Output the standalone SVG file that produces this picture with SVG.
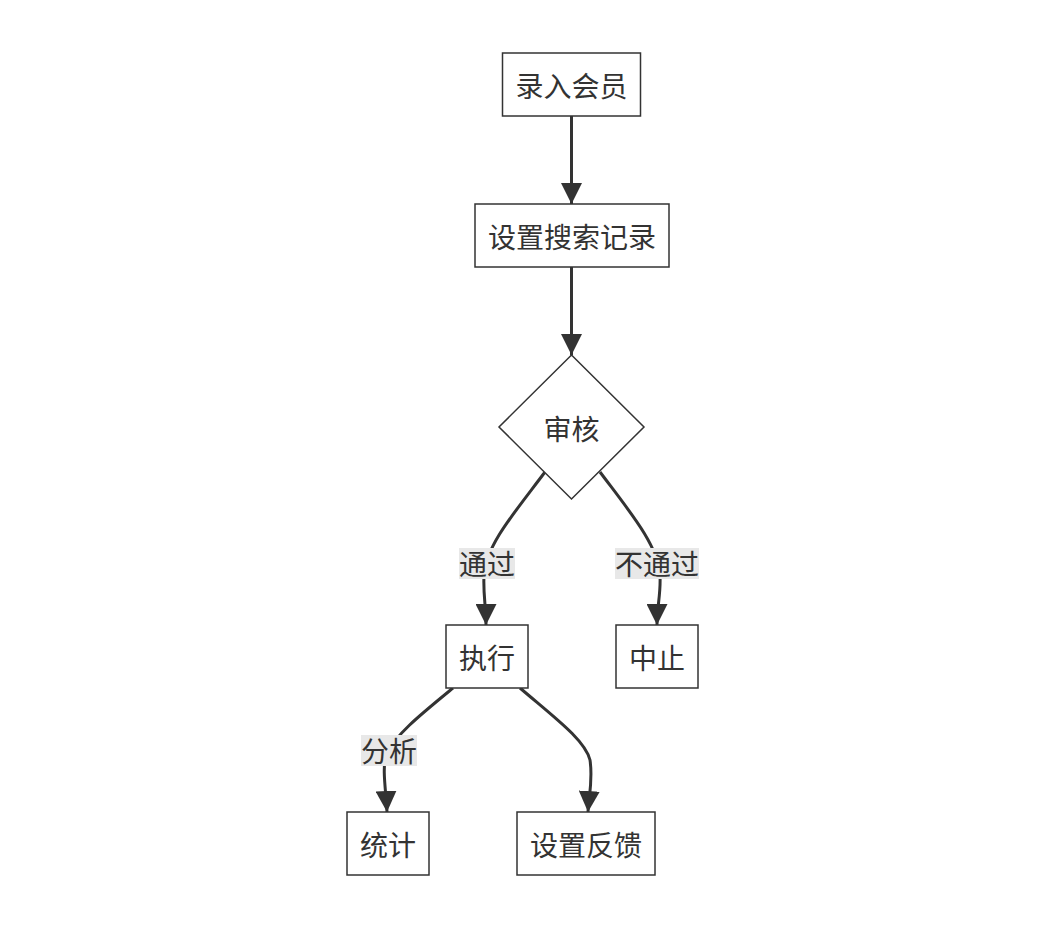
<svg xmlns="http://www.w3.org/2000/svg" width="1046" height="932" viewBox="0 0 1046 932">
<style>
.n{fill:#fff;stroke:#333;stroke-width:1.5}
.t{font-family:"Noto Sans CJK SC","Liberation Sans",sans-serif;font-size:28px;fill:#333;text-anchor:middle;dominant-baseline:central}
.e{fill:none;stroke:#333;stroke-width:3}
.lb{fill:#e8e8e8}
</style>
<defs>
<marker id="ah" viewBox="0 0 10 10" refX="10" refY="5" markerWidth="21" markerHeight="21" markerUnits="userSpaceOnUse" orient="auto">
<path d="M0,0 L10,5 L0,10 z" fill="#333"/>
</marker>
</defs>
<rect width="1046" height="932" fill="#fff"/>
<g id="edges">
<path class="e" d="M571.5,116 L571.5,204" marker-end="url(#ah)"/>
<path class="e" d="M571.5,267 L571.5,355" marker-end="url(#ah)"/>
<path class="e" d="M545,472 C515,512 486,545 484,575 C483,595 486,605 486,625" marker-end="url(#ah)"/>
<path class="e" d="M600,472 C630,512 658,545 660,575 C661,595 657,605 657,625" marker-end="url(#ah)"/>
<path class="e" d="M453,688 C420,715 395,735 386,755 C382,770 386,790 387,812" marker-end="url(#ah)"/>
<path class="e" d="M520,688 C555,718 585,740 590,760 C593,780 589,795 588,812" marker-end="url(#ah)"/>
</g>
<g id="label-pass"><rect class="lb" x="459" y="548" width="56" height="31"/><text class="t" x="487" y="563">通过</text></g>
<g id="label-fail"><rect class="lb" x="615" y="548" width="84" height="31"/><text class="t" x="657" y="563">不通过</text></g>
<g id="label-analyze"><rect class="lb" x="361" y="735" width="56" height="31"/><text class="t" x="389" y="750">分析</text></g>
<g id="n1"><rect class="n" x="502.5" y="53" width="138" height="63"/><text class="t" x="571.5" y="85">录入会员</text></g>
<g id="n2"><rect class="n" x="475" y="204" width="194" height="63"/><text class="t" x="572" y="236">设置搜索记录</text></g>
<g id="n3"><polygon class="n" points="571.5,355 644,427 571.5,499 499,427"/><text class="t" x="571.5" y="428">审核</text></g>
<g id="n4"><rect class="n" x="446" y="625" width="82" height="63"/><text class="t" x="487" y="657">执行</text></g>
<g id="n5"><rect class="n" x="616" y="625" width="82" height="63"/><text class="t" x="657" y="657">中止</text></g>
<g id="n6"><rect class="n" x="347" y="812" width="82" height="63"/><text class="t" x="388" y="844">统计</text></g>
<g id="n7"><rect class="n" x="517" y="812" width="138" height="63"/><text class="t" x="586" y="844">设置反馈</text></g>
</svg>
